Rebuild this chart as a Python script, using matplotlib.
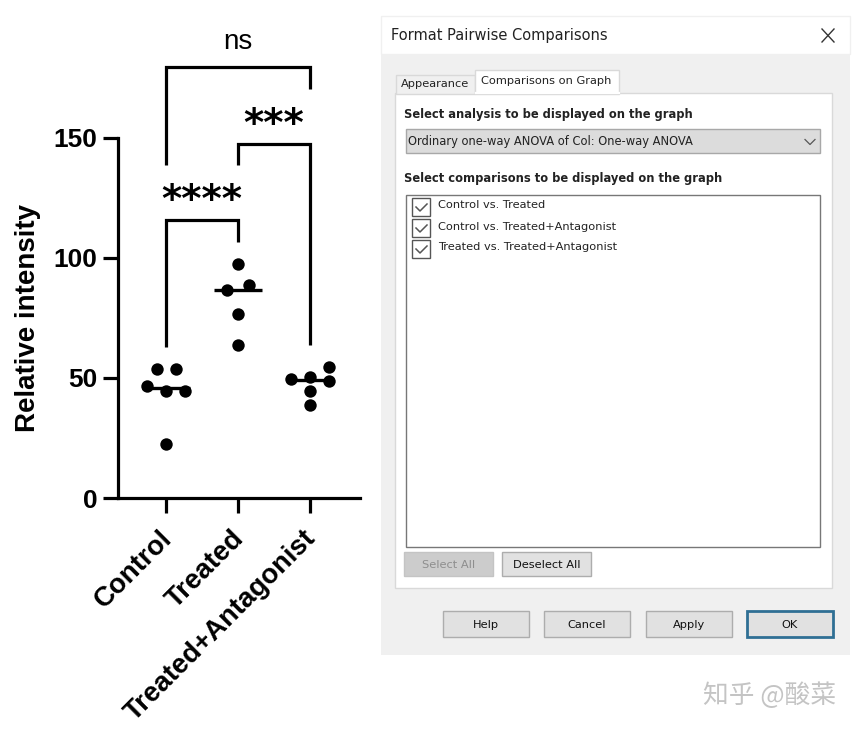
import matplotlib
matplotlib.use("Agg")
import matplotlib.pyplot as plt
from matplotlib.patches import Rectangle
from matplotlib.transforms import ScaledTranslation

### data ###
categories = ["Control", "Treated", "Treated+Antagonist"]
control_vals = [53.6, 53.6, 46.7, 44.6, 44.7, 22.6]
control_offs = [-0.125, 0.134, -0.26, 0.0, 0.264, 0.0]
treated_vals = [97.6, 88.8, 86.7, 76.7, 63.6]
treated_offs = [0.0, 0.153, -0.153, 0.0, 0.0]
antag_vals = [54.7, 49.7, 50.6, 48.7, 44.7, 38.6]
antag_offs = [0.26, -0.26, 0.0, 0.26, 0.0, 0.0]
medians = [46.0, 86.7, 49.3]

yticks = [0, 50, 100, 150]
ylabel = "Relative intensity"

# left x, right x, top y, left end y, right end y, label
brackets = [
    (0, 1, 115.8, 63.0, 106.8, "****"),
    (1, 2, 147.5, 138.7, 63.7, "***"),
    (0, 2, 179.7, 138.7, 170.4, "ns"),
]

dialog_title = "Format Pairwise Comparisons"
tab_labels = ["Appearance", "Comparisons on Graph"]
heading1 = "Select analysis to be displayed on the graph"
heading2 = "Select comparisons to be displayed on the graph"
combo_text = "Ordinary one-way ANOVA of Col: One-way ANOVA"
comparisons = ["Control vs. Treated", "Control vs. Treated+Antagonist", "Treated vs. Treated+Antagonist"]
watermark = "知乎 @酸菜"

W, H = 858, 730
fig = plt.figure(figsize=(W / 100, H / 100), dpi=100, facecolor="white")

### graph on the left ###
plt.rcParams["font.family"] = ["Liberation Sans", "DejaVu Sans"]
ax = fig.add_axes([118 / W, 1 - 498 / H, 242 / W, 360 / H])
ax.patch.set_alpha(0)
ax.set_xlim(-0.667, 2.694)
ax.set_ylim(0, 150)
for s in ["top", "right"]:
    ax.spines[s].set_visible(False)
for s in ["left", "bottom"]:
    ax.spines[s].set_linewidth(2.3)

groups = [(control_vals, control_offs), (treated_vals, treated_offs), (antag_vals, antag_offs)]
for i, (vals, offs) in enumerate(groups):
    ax.scatter([i + o for o in offs], vals, s=80, color="black", linewidths=0, zorder=3, clip_on=False)
    ax.plot([i - 0.33, i + 0.33], [medians[i], medians[i]], color="black", lw=2.4, solid_capstyle="butt", zorder=4)

for x0, x1, top, y0, y1, lab in brackets:
    ax.plot([x0, x0, x1, x1], [y0, top, top, y1], color="black", lw=2.3, clip_on=False,
            solid_joinstyle="miter", solid_capstyle="butt")
    if lab == "ns":
        ax.text((x0 + x1) / 2, top + 5, lab, ha="center", va="bottom", fontsize=20, clip_on=False)
    else:
        ax.text((x0 + x1) / 2 - 0.01, top + 8, lab, ha="center", va="center", fontsize=28,
                family="DejaVu Sans", fontweight="bold", clip_on=False)

ax.set_yticks(yticks)
ax.set_xticks(range(3))
ax.set_xticklabels(categories, rotation=45, ha="right", rotation_mode="anchor",
                   fontsize=19.8, fontweight="bold")
ax.tick_params(axis="both", width=2.3, length=11)
ax.tick_params(axis="y", labelsize=19, pad=4)
# tick_params resets the label transforms, so the shift has to come after it
shift = ScaledTranslation(-7 / 100, -7 / 100, fig.dpi_scale_trans)
for t in ax.get_xticklabels():
    t.set_transform(t.get_transform() + shift)
for t in ax.get_yticklabels():
    t.set_fontweight("bold")
ax.set_ylabel(ylabel, fontsize=20, fontweight="bold", labelpad=9)

### dialog on the right, pixel coordinates ###
ov = fig.add_axes([0, 0, 1, 1])
ov.set_xlim(0, W)
ov.set_ylim(H, 0)
ov.axis("off")
ov.patch.set_alpha(0)


def box(x0, y0, x1, y1, fc, ec="none", lw=1.0, z=1):
    ov.add_patch(Rectangle((x0, y0), x1 - x0, y1 - y0, facecolor=fc, edgecolor=ec, linewidth=lw, zorder=z))


def label(x, y, s, size=8.3, color="#222222", ha="left", weight="normal"):
    ov.text(x, y, s, fontsize=size, color=color, ha=ha, va="center", family="DejaVu Sans",
            fontweight=weight, zorder=6)


box(381, 16, 850, 655, "#f0f0f0")
box(381, 16, 850, 54, "white", ec="#f0f0f0")
label(391, 35.5, dialog_title, size=10.5)
ov.plot([822, 834], [29, 42], color="#333333", lw=1, zorder=6)
ov.plot([834, 822], [29, 42], color="#333333", lw=1, zorder=6)

box(395, 93, 832, 588, "white", ec="#d9d9d9")
box(396, 75, 475, 94, "#f0f0f0", ec="#d9d9d9")
box(475, 70, 619, 94, "white", ec="#d9d9d9", z=2)
ov.plot([475.5, 618.5], [93, 93], color="white", lw=1.6, zorder=3)
label(401, 84, tab_labels[0], size=8.2)
label(481, 81.5, tab_labels[1], size=8.2)

label(404, 114.5, heading1, size=8.3, weight="bold")
box(405.5, 129, 820, 153, "#dcdcdc", ec="#a8a8a8")
label(408, 141.5, combo_text, size=8.3)
ov.plot([805, 810, 815], [139.5, 144.5, 139.5], color="#555555", lw=0.9, zorder=6)

label(404, 178.5, heading2, size=8.3, weight="bold")
box(405.5, 195, 820, 546.5, "white", ec="#777777")
for i, comp in enumerate(comparisons):
    top = 198 + i * 21
    box(412, top, 430, top + 18, "white", ec="#555555")
    ov.plot([416, 420, 427], [top + 9, top + 13, top + 6], color="#555555", lw=1.1, zorder=6)
    label(438, top + 7.5, comp, size=8.2)

buttons = [
    ("Select All", 404, 552, 493, 576, "#cccccc", "#c4c4c4", "#8e8e8e"),
    ("Deselect All", 502, 552, 591, 576, "#e1e1e1", "#adadad", "#111111"),
    ("Help", 443, 611, 529, 637, "#e1e1e1", "#adadad", "#111111"),
    ("Cancel", 544, 611, 630, 637, "#e1e1e1", "#adadad", "#111111"),
    ("Apply", 646, 611, 732, 637, "#e1e1e1", "#adadad", "#111111"),
    ("OK", 747, 611, 833, 637, "#e1e1e1", "#2f6f94", "#111111"),
]
for name, x0, y0, x1, y1, fc, ec, tc in buttons:
    box(x0, y0, x1, y1, fc, ec=ec, lw=2 if name == "OK" else 1)
    label((x0 + x1) / 2, (y0 + y1) / 2 + 0.5, name, size=8.2, color=tc, ha="center")

ov.text(836, 696, watermark, fontsize=18.5, color="#c4c4c4", ha="right", va="center",
        family=["Noto Sans CJK SC", "DejaVu Sans"], zorder=6)

fig.savefig("out.png", dpi=100)
